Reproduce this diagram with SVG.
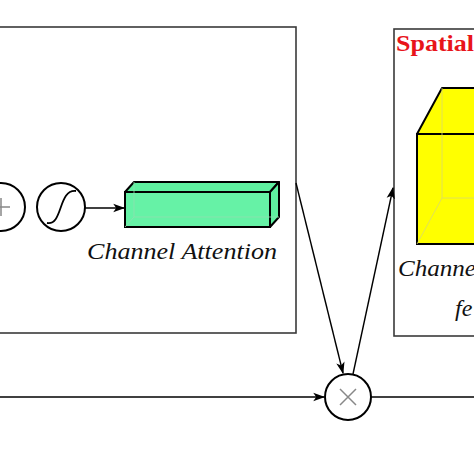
<svg xmlns="http://www.w3.org/2000/svg" width="474" height="474" viewBox="0 0 474 474">
<defs>
<style>
.frame{fill:none;stroke:#3a3a3a;stroke-width:1.6}
.op{fill:#fff;stroke:#000;stroke-width:2}
.sym{stroke:#888;stroke-width:1.5;fill:none}
.edge{stroke:#000;stroke-width:1.4;fill:none}
.lbl{font-family:"Liberation Serif",serif;font-style:italic;fill:#111}
.hid{stroke-width:0.8;fill:none}
</style>
<marker id="ah" viewBox="0 0 10 10" refX="9" refY="5" markerWidth="12" markerHeight="12" markerUnits="userSpaceOnUse" orient="auto">
<path d="M0,1.5 L10,5 L0,8.5 L2.5,5 z" fill="#000"/>
</marker>
</defs>
<rect width="474" height="474" fill="#fff"/>

<g id="channel-module">
<rect class="frame" x="-10" y="27" width="306" height="306"/>
</g>

<g id="add-op">
<circle class="op" cx="1" cy="207" r="24"/>
<path class="sym" d="M-8,207 H10 M1,198 V216"/>
</g>

<g id="sigmoid-op">
<circle class="op" cx="61" cy="207" r="24"/>
<path d="M47,223 C63,226 58,189 76,191" fill="none" stroke="#000" stroke-width="1.8"/>
</g>

<g id="channel-attention">
<polygon points="125,192 134,182 279,182 270,192" fill="#5ff0a0" stroke="#000" stroke-width="2" stroke-linejoin="round"/>
<polygon points="270,192 279,182 279,217 270,227" fill="#5ff0a0" stroke="#000" stroke-width="2" stroke-linejoin="round"/>
<rect x="125" y="192" width="145" height="35" fill="#66f2a6" stroke="#000" stroke-width="2"/>
<path class="hid" stroke="#8fe0b0" d="M134,182 V217 H279 M125,227 L134,217"/>
<text class="lbl" x="87" y="259" font-size="24" textLength="190" lengthAdjust="spacingAndGlyphs">Channel Attention</text>
</g>

<g id="spatial-module">
<rect class="frame" x="394" y="29" width="100" height="307"/>
<text x="396" y="51" font-family="Liberation Serif,serif" font-weight="bold" font-size="24" fill="#e8141a" textLength="78" lengthAdjust="spacingAndGlyphs">Spatial</text>
<polygon points="417,134 442,88 500,88 500,134" fill="#ffff00" stroke="#000" stroke-width="2" stroke-linejoin="round"/>
<rect x="417" y="134" width="90" height="110" fill="#ffff00" stroke="#000" stroke-width="2"/>
<path class="hid" stroke="#d8d870" d="M442,88 V198 H500 M417,244 L442,198"/>
<text class="lbl" x="398" y="276" font-size="24" textLength="78" lengthAdjust="spacingAndGlyphs">Channe</text>
<text class="lbl" x="455" y="316" font-size="24">fe</text>
</g>

<g id="mul-op">
<circle class="op" cx="348" cy="397" r="23"/>
<path class="sym" d="M340,389 L356,405 M356,389 L340,405"/>
</g>

<g id="connectors">
<line class="edge" x1="85" y1="208" x2="124" y2="208" marker-end="url(#ah)"/>
<line class="edge" x1="296" y1="183" x2="343" y2="373" marker-end="url(#ah)"/>
<line class="edge" x1="353" y1="374" x2="393" y2="188" marker-end="url(#ah)"/>
<line class="edge" x1="-5" y1="397" x2="324" y2="397" marker-end="url(#ah)"/>
<line class="edge" x1="371" y1="397" x2="480" y2="397"/>
</g>
</svg>
